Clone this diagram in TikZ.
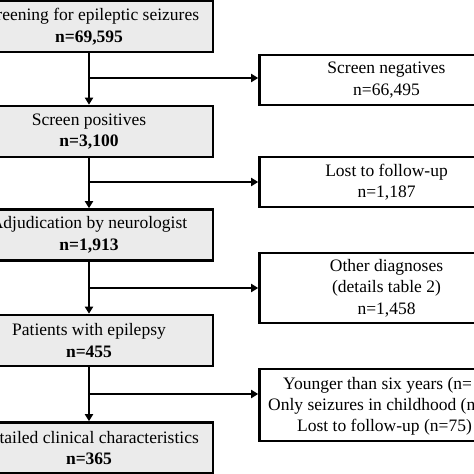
\documentclass[tikz,border=0pt]{standalone}
\usepackage{fontspec}
\setmainfont{Liberation Serif}
\usetikzlibrary{positioning,arrows.meta}
\definecolor{cfill}{HTML}{EBEBEB}
\tikzset{
  mainbox/.style={draw=black, line width=2.6pt, fill=cfill, align=center,
    minimum width=248pt, minimum height=51pt, inner sep=0pt,
    font=\fontsize{17.5}{21.5}\selectfont},
  sidebox/.style={draw=black, line width=2.6pt, fill=white, align=center,
    minimum width=254pt, inner sep=0pt,
    font=\fontsize{17.5}{21.5}\selectfont},
  sidetext/.style={anchor=west, inner sep=0pt, font=\fontsize{17.5}{21.5}\selectfont},
  flowarrow/.style={-{Triangle[length=7pt,width=8pt]}, line width=1.8pt}
}
\begin{document}
\begin{tikzpicture}[x=1pt, y=-1pt]
    \useasboundingbox (0,0) rectangle (474,474);
    \clip (0,0) rectangle (474,474);
    \fill[white] (0,0) rectangle (474,474);

    % main column
    \node[mainbox] (screen) at (89,26.5) {Screening for epileptic seizures\\\textbf{n=69,595}};
    \node[mainbox] (pos) at (89,131.5) {Screen positives\\\textbf{n=3,100}};
    \node[mainbox] (adj) at (89,235) {Adjudication by neurologist\\\textbf{n=1,913}};
    \node[mainbox] (epi) at (89,340.5) {Patients with epilepsy\\\textbf{n=455}};
    \node[mainbox] (detail) at (89,448) {Detailed clinical characteristics\\\textbf{n=365}};

    % exclusions
    \node[sidebox, minimum height=50pt] (neg) at (386.5,80) {Screen negatives\\n=66,495};
    \node[sidebox, minimum height=50pt] (lost) at (386.5,182) {Lost to follow-up\\n=1,187};
    \node[sidebox, minimum height=70pt] (other) at (386.5,288) {Other diagnoses\\(details table 2)\\n=1,458};
    \node[sidebox, minimum height=72pt] (excl) at (386.5,405) {};
    \node[sidetext] (young) at (283,385) {Younger than six years (n=};
    \node[sidetext] (child) at (268,406) {Only seizures in childhood (n};
    \node[sidetext] (lostb) at (297,427) {Lost to follow-up (n=75)};

    % branch points
    \coordinate (b1) at (89,78);
    \coordinate (b2) at (89,182);
    \coordinate (b3) at (89,288);
    \coordinate (b4) at (89,394);

    \draw[flowarrow] (screen) -- (pos);
    \draw[flowarrow] (pos) -- (adj);
    \draw[flowarrow] (adj) -- (epi);
    \draw[flowarrow] (epi) -- (detail);

    \draw[flowarrow] (b1) -- (b1 -| neg.west);
    \draw[flowarrow] (b2) -- (b2 -| lost.west);
    \draw[flowarrow] (b3) -- (b3 -| other.west);
    \draw[flowarrow] (b4) -- (b4 -| excl.west);
  \end{tikzpicture}
\end{document}
